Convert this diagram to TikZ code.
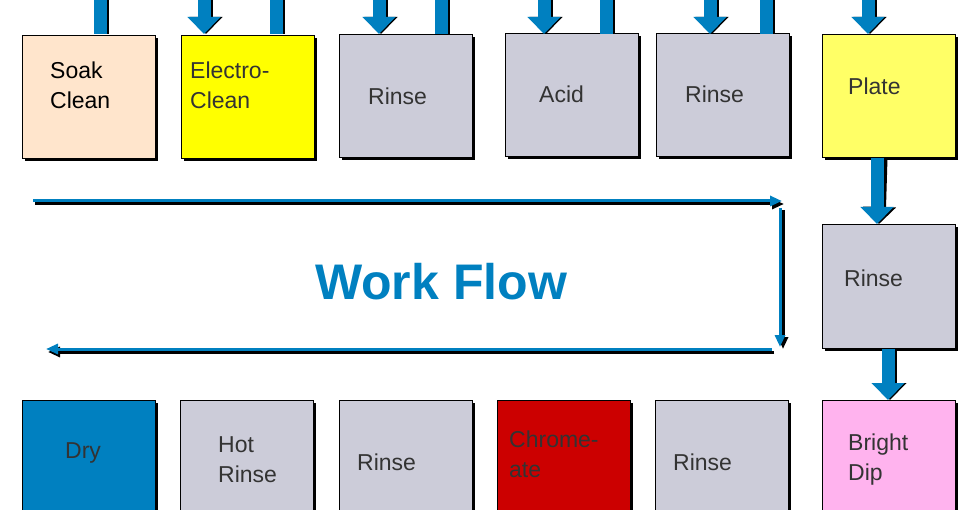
\documentclass[tikz,border=0pt]{standalone}
\usepackage{fontspec}
\setmainfont{Liberation Sans}
\usetikzlibrary{arrows.meta,shadows}
\definecolor{fb}{RGB}{0,128,192}
\definecolor{gr}{RGB}{204,204,217}
\definecolor{pe}{RGB}{255,229,204}
\definecolor{ye}{RGB}{255,255,0}
\definecolor{pl}{RGB}{255,255,102}
\definecolor{rd}{RGB}{204,0,0}
\definecolor{pk}{RGB}{255,179,238}
\definecolor{tx}{RGB}{51,51,51}
\begin{document}
\begin{tikzpicture}[x=1pt,y=-1pt,
 box/.style={draw=black,line width=0.8pt,anchor=north west,minimum width=133pt,minimum height=123pt,inner sep=0pt,
   drop shadow={opacity=1,fill=black,shadow xshift=3pt,shadow yshift=-3pt}},
 lbl/.style={anchor=west,align=left,text=tx,font=\fontsize{23}{30}\selectfont,inner sep=0pt},
 pipe/.style={line width=13pt,draw=fb},
 pipesh/.style={line width=13pt,draw=black},
 blk/.style={pipe,-{Triangle[width=32pt,length=17pt]}},
 blksh/.style={pipesh,-{Triangle[width=32pt,length=17pt]}},
 flow/.style={draw=fb,line width=3pt,-{Triangle[width=10pt,length=12pt]}},
 flowsh/.style={draw=black,line width=3pt,-{Triangle[width=10pt,length=12pt]}}]
\useasboundingbox (0,0) rectangle (971,510);
% top row
\node[box,fill=pe] (b1) at (22,35) {};
\node[box,fill=ye] (b2) at (181,35) {};
\node[box,fill=gr] (b3) at (339,34) {};
\node[box,fill=gr] (b4) at (505,33) {};
\node[box,fill=gr] (b5) at (656,33) {};
\node[box,fill=pl] (b6) at (822,34) {};
\node[box,fill=gr,minimum height=124pt] (m) at (822,224) {};
\node[box,fill=fb] (c1) at (22,400) {};
\node[box,fill=gr] (c2) at (180,400) {};
\node[box,fill=gr] (c3) at (339,400) {};
\node[box,fill=rd] (c4) at (497,400) {};
\node[box,fill=gr] (c5) at (655,400) {};
\node[box,fill=pk] (c6) at (822,400) {};
% labels
\node[lbl,text=black] (t1) at (50,85) {Soak\\Clean};
\node[lbl] (t2) at (190,85) {Electro-\\Clean};
\node[lbl] (t3) at (368,96) {Rinse};
\node[lbl] (t4) at (539,94) {Acid};
\node[lbl] (t5) at (685,94) {Rinse};
\node[lbl] (t6) at (848,86) {Plate};
\node[lbl] (t7) at (844,278) {Rinse};
\node[lbl] (u1) at (65,453) {Dry};
\node[lbl] (u2) at (218,460) {Hot\\Rinse};
\node[lbl] (u3) at (357,462) {Rinse};
\node[lbl] (u4) at (509,454) {Chrome-\\ate};
\node[lbl] (u5) at (673,462) {Rinse};
\node[lbl] (u6) at (848,460) {Bright\\Dip};
\node[text=fb,font=\bfseries\fontsize{50}{60}\selectfont,inner sep=0pt] (wf) at (441,282) {Work Flow};
% top pipes
\foreach \x in {100,276,441,606,766} {
  \coordinate (p\x) at (\x,0);
  \draw[pipesh] ([xshift=2pt]p\x) -- (\x+2,34);
  \draw[pipe] (p\x) -- (\x,34);
}
\foreach \x in {204,379,544,710,868} {
  \coordinate (a\x) at (\x,0);
  \draw[blksh] ([xshift=2pt]a\x) -- (\x+2,34);
  \draw[blk] (a\x) -- (\x,34);
}
% vertical connections
\draw[blksh] ([xshift=57pt]b6.south west) ++(2,0) -- ([xshift=57pt]m.north west);
\draw[blk] ([xshift=55pt]b6.south west) -- ([xshift=55pt]m.north west);
\draw[blksh] ([xshift=68pt]m.south west) -- ([xshift=68pt]c6.north west);
\draw[blk] ([xshift=66pt]m.south west) -- ([xshift=66pt]c6.north west);
% work flow loop
\coordinate (f1) at (33,201); \coordinate (f2) at (782,201);
\coordinate (g1) at (780,208); \coordinate (g2) at (780,347);
\coordinate (h1) at (772,349); \coordinate (h2) at (46,349);
\draw[flowsh] ([shift={(2,3)}]f1) -- ([shift={(2,3)}]f2);
\draw[flow] (f1) -- (f2);
\draw[flowsh] ([shift={(3,2)}]g1) -- ([shift={(3,2)}]g2);
\draw[flow] (g1) -- (g2);
\draw[flowsh] ([shift={(2,3)}]h1) -- ([shift={(2,3)}]h2);
\draw[flow] (h1) -- (h2);
\end{tikzpicture}
\end{document}
